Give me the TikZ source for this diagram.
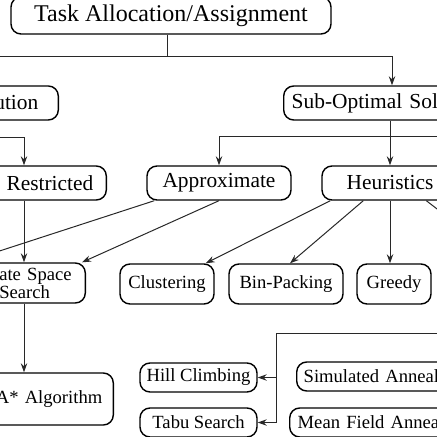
\documentclass[tikz,border=0pt]{standalone}
\usepackage{fontspec}
\setmainfont{Liberation Serif}
\usetikzlibrary{arrows.meta,calc,positioning}
\definecolor{TreeLine}{RGB}{40,40,40}

\begin{document}
\begin{tikzpicture}[>={Stealth[length=4.5pt,width=3.2pt]},x=0.5pt,y=-0.5pt,
  box/.style={draw,rounded corners=5pt,line width=0.7pt,inner ysep=0pt,inner xsep=3pt},
  big/.style={font=\fontsize{12}{14}\selectfont},
  mid/.style={font=\fontsize{10.7}{12}\selectfont,minimum height=17pt},
  small/.style={font=\fontsize{9.3}{9}\selectfont,minimum height=20pt},
  leaf/.style={font=\fontsize{9.3}{10.5}\selectfont,minimum height=14.5pt},
  link/.style={TreeLine,line width=0.5pt}]
\useasboundingbox (0,0) rectangle (437,437);
\clip (0,0) rectangle (437,437);

\node[box,big,minimum width=160pt,minimum height=18.5pt] (task) at (171,15.5) {Task Allocation/Assignment};
\node[box,mid,anchor=east,text width=50pt,align=right,inner xsep=10pt] (opt) at (59,103) {ution};
\node[box,mid,anchor=west,text width=110pt,align=left,inner xsep=4pt] (sub) at (283,103) {Sub-Optimal Sol};

\node[box,mid,anchor=east,text width=60pt,align=right,inner xsep=6.5pt] (restr) at (107,183) {Restricted};
\node[box,mid,minimum width=72pt] (appr) at (219,183) {Approximate};
\node[box,mid,minimum width=68pt] (heur) at (390,183) {Heuristics};

\node[box,small,anchor=east,text width=38pt,align=left,inner xsep=5pt] (state) at (86,283) {ate Space\\Search};
\node[box,small,minimum width=47pt] (clus) at (167,284) {Clustering};
\node[box,small,minimum width=57pt] (bin) at (286,284) {Bin-Packing};
\node[box,small,minimum width=37pt] (greedy) at (394,284) {Greedy};

\node[box,small,anchor=east,text width=62pt,align=right,inner xsep=5.5pt,minimum height=26pt] (astar) at (114,399) {A* Algorithm};
\node[box,leaf,minimum width=58.5pt] (hill) at (198.5,377.5) {Hill Climbing};
\node[box,leaf,minimum width=58.5pt] (tabu) at (198.5,422.5) {Tabu Search};
\node[box,leaf,anchor=west,text width=100pt,align=left,inner xsep=3.5pt] (sim) at (296,376.5) {Simulated Anneal};
\node[box,leaf,anchor=west,text width=100pt,align=left,inner xsep=4pt] (mean) at (289,422.5) {Mean Field Annea};

\coordinate (j1) at (167,57);
\coordinate (j2) at (392,57);
\coordinate (jl) at (-30,57);
\draw[link] (task.south -| j1) -- (j1) -- (jl);
\draw[link,->] (j1) -- (j2) -- (j2 |- sub.north);

\coordinate (k2) at (24,138);
\draw[link,->] (opt.south) |- (k2) -- (k2 |- restr.north);
\coordinate (b2) at (470,137);
\draw[link,->] (b2) -| (appr.north);
\draw[link,->] (sub.south -| heur.north) -- (heur.north);

\draw[link,->] (restr.south -| k2) -- (state.north -| k2);
\draw[link,->] (state.south -| k2) -- (astar.north -| k2);
\coordinate (al) at (-62,271);
\draw[link] ([xshift=4pt]appr.south west) -- (al);
\draw[link,->] (appr.south) -- ([xshift=-2pt]state.north east);
\draw[link,->] ([xshift=4.5pt]heur.south west) -- ([xshift=-4.5pt]clus.north east);
\draw[link,->] ([xshift=21pt]heur.south west) -- ([xshift=2pt]bin.north);
\draw[link,->] (heur.south) -- (heur.south |- greedy.north);
\coordinate (hr) at (480,242);
\draw[link] ([xshift=52.5pt]heur.south west) -- (hr);

\coordinate (c1) at (276,333);
\coordinate (c2) at (470,333);
\draw[link] (c2) -- (c1) -- (c1 |- tabu.east);
\draw[link,->] (c1 |- hill.east) -- (hill.east);
\draw[link,->] (c1 |- tabu.east) -- (tabu.east);
\end{tikzpicture}
\end{document}
